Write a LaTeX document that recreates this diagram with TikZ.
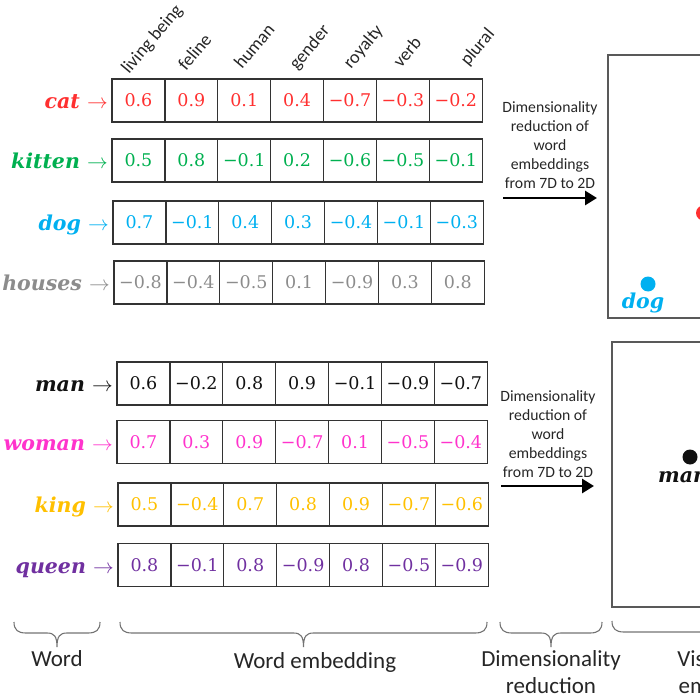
\documentclass[tikz,border=0pt]{standalone}
\usepackage{fontspec}
\setmainfont{DejaVu Serif}
\newfontfamily\sansfont{Carlito}
\usetikzlibrary{positioning,arrows.meta}
\definecolor{catred}{HTML}{FF3030}
\definecolor{kittengreen}{HTML}{00B050}
\definecolor{dogblue}{HTML}{00B0F0}
\definecolor{housegray}{HTML}{8C8C8C}
\definecolor{manblack}{HTML}{111111}
\definecolor{womanpink}{HTML}{FF33CC}
\definecolor{kinggold}{HTML}{FFC000}
\definecolor{queenpurple}{HTML}{7030A0}
\tikzset{>=stealth,
  cell/.style={draw=black!80,line width=1.3pt,minimum width=52.9pt,minimum height=43pt,inner sep=0pt,font=\fontsize{17.5}{20}\selectfont},
  word/.style={anchor=base east,inner sep=0pt,font=\fontsize{20.5}{24}\selectfont\bfseries\itshape},
  feature/.style={rotate=50,anchor=base west,inner sep=0pt,text=black!85,font=\sansfont\fontsize{18.2}{22}\selectfont},
  note/.style={align=center,inner sep=0pt,text=black!85,font=\sansfont\fontsize{15.7}{19}\selectfont},
  caption/.style={align=center,inner sep=0pt,anchor=north,text=black!85,font=\sansfont\fontsize{23}{27}\selectfont},
  bracket/.style={draw=black!55,line width=1.1pt},
  plotbox/.style={draw=black!65,line width=1.6pt},
  reduce/.style={line width=2.8pt,-{Triangle[length=12pt,width=14pt]}}
}
% curly brace under a group: left, right, top
\newcommand\wordbrace[3]{%
  \draw[bracket] (#1,#3) .. controls (#1,#3+8) and (#1+4,#3+11) .. (#1+12,#3+11)
    -- ({(#1+#2)/2-10},#3+11) .. controls ({(#1+#2)/2-3},#3+11) and ({(#1+#2)/2},#3+14) .. ({(#1+#2)/2},#3+25)
    .. controls ({(#1+#2)/2},#3+14) and ({(#1+#2)/2+3},#3+11) .. ({(#1+#2)/2+10},#3+11)
    -- (#2-12,#3+11) .. controls (#2-4,#3+11) and (#2,#3+8) .. (#2,#3);}

\begin{document}
\begin{tikzpicture}[x=1pt,y=-1pt]
\useasboundingbox (0,0) rectangle (700,700);
\clip (0,0) rectangle (700,700);
% feature names
\foreach \f/\x/\y [count=\k] in {living being/129/75,feline/186/72,human/242/70,gender/297/71,royalty/351/70,verb/401/69,plural/468/67}
  \node[feature] (feat\k) at (\x,\y) {\f};
% embedding rows
\foreach \w/\c/\x/\y/\vals in {
  cat/catred/112/100.5/{0.6,0.9,0.1,0.4,−0.7,−0.3,−0.2},
  kitten/kittengreen/112/160.5/{0.5,0.8,−0.1,0.2,−0.6,−0.5,−0.1},
  dog/dogblue/113/222.5/{0.7,−0.1,0.4,0.3,−0.4,−0.1,−0.3},
  houses/housegray/114/282.5/{−0.8,−0.4,−0.5,0.1,−0.9,0.3,0.8},
  man/manblack/117/383.5/{0.6,−0.2,0.8,0.9,−0.1,−0.9,−0.7},
  woman/womanpink/117/442/{0.7,0.3,0.9,−0.7,0.1,−0.5,−0.4},
  king/kinggold/118/504.5/{0.5,−0.4,0.7,0.8,0.9,−0.7,−0.6},
  queen/queenpurple/118/565/{0.8,−0.1,0.8,−0.9,0.8,−0.5,−0.9}}{
  \node[word,text=\c] (\w) at (\x-4,\y+8) {\w\ $\rightarrow$};
  \foreach \v [count=\i] in \vals
    \node[cell,text=\c] (\w\i) at ({\x+52.9*\i-26.45},\y) {\v};
}
% dimensionality reduction
\node[note] (redtop) at (550,145.5) {Dimensionality\\reduction of\\word\\embeddings\\from 7D to 2D};
\coordinate (redtopA) at (503,198);
\coordinate (redtopB) at (597,198);
\draw[reduce] (redtopA) -- (redtopB);
\node[note] (redbot) at (548,434.5) {Dimensionality\\reduction of\\word\\embeddings\\from 7D to 2D};
\coordinate (redbotA) at (501,486);
\coordinate (redbotB) at (594,486);
\draw[reduce] (redbotA) -- (redbotB);
% 2D plots
\draw[plotbox] (608,55) rectangle (790,318);
\draw[plotbox] (612,342) rectangle (790,607);
\fill[dogblue] (648,284) coordinate (dogpt) circle[radius=7.5];
\node[word,anchor=base,text=dogblue] (doglabel) at (643,308) {dog};
\fill[catred] (703.5,213) coordinate (catpt) circle[radius=7.5];
\fill[manblack] (690,457) coordinate (manpt) circle[radius=7.5];
\node[word,anchor=base west,text=manblack] (manlabel) at (658,482) {man};
% braces and captions
\wordbrace{14}{100}{622}
\node[caption] (wordcap) at (57,650) {Word};
\wordbrace{120}{487}{622}
\node[caption] (embcap) at (315,652) {Word embedding};
\wordbrace{500}{602}{622}
\node[caption] (redcap) at (551,650) {Dimensionality\\reduction};
\wordbrace{612}{860}{621}
\node[caption] (viscap) at (736,650) {Visualization\\embeddings};
\end{tikzpicture}
\end{document}
